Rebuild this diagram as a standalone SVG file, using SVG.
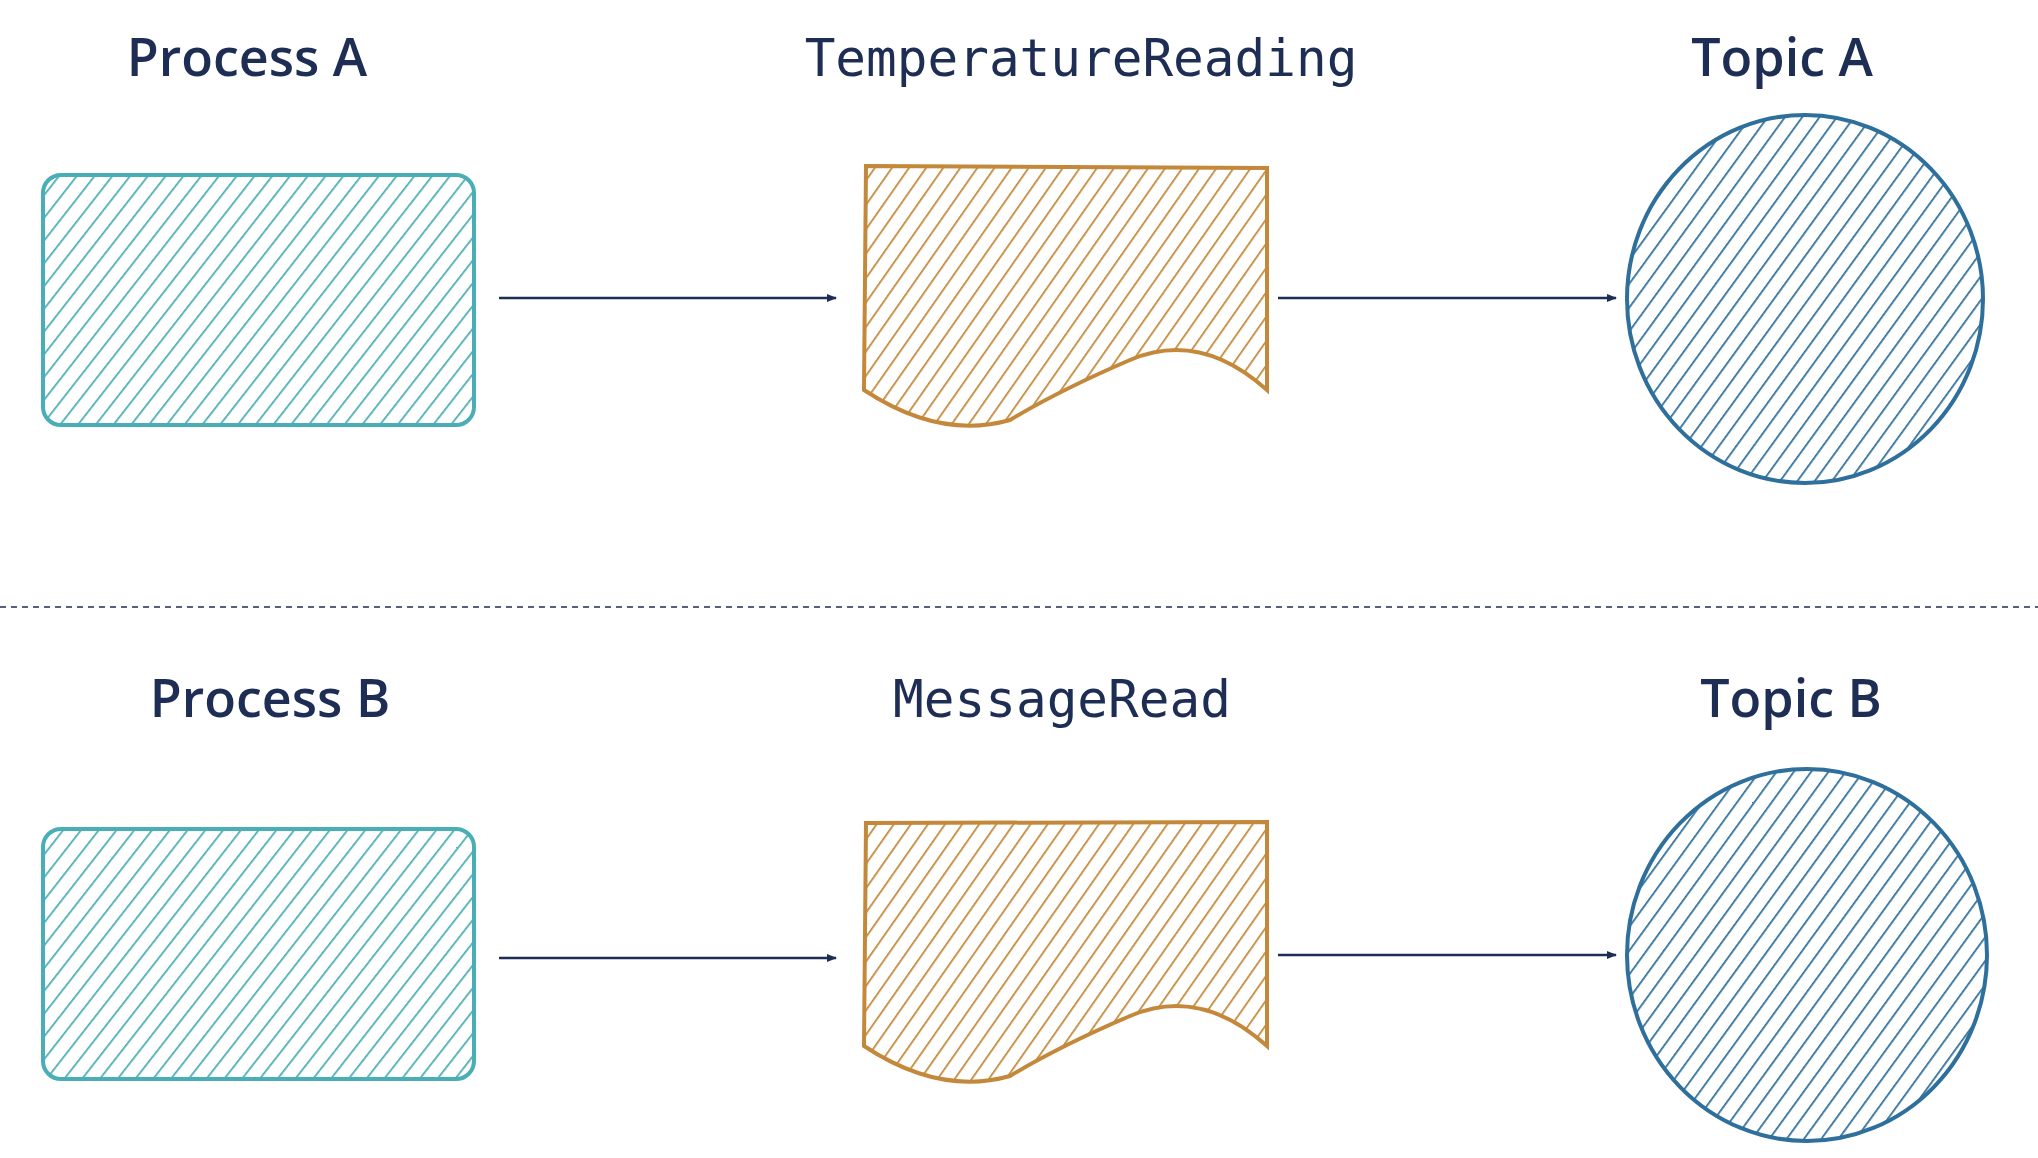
<svg xmlns="http://www.w3.org/2000/svg" width="2038" height="1158" viewBox="0 0 2038 1158">
<style>
.t{font-family:"Open Sans","Liberation Sans",sans-serif;font-size:52px;font-weight:600;fill:#1e2d54;text-anchor:middle}
.m{font-family:"DejaVu Sans Mono","Liberation Mono",monospace;font-size:51px;fill:#1e2d54;text-anchor:middle}
.c{stroke:#1e2d54;stroke-width:2.5;fill:none;marker-end:url(#ah)}
.teal{stroke:#4aaeb6;stroke-width:4;fill:url(#ht)}
.or{stroke:#c4883a;stroke-width:4;fill:url(#ho)}
.bl{stroke:#2e6f9c;stroke-width:4;fill:url(#hb)}
</style>
<defs>
<marker id="ah" markerWidth="10" markerHeight="10" refX="9" refY="5" orient="auto" markerUnits="userSpaceOnUse"><path d="M0,1 L10,5 L0,9 z" fill="#1e2d54"/></marker>
<pattern id="ht" width="14" height="14" patternUnits="userSpaceOnUse" patternTransform="rotate(38)"><line x1="0" y1="0" x2="0" y2="14" stroke="#4aaeb6" stroke-width="3.5"/></pattern>
<pattern id="ho" width="14" height="14" patternUnits="userSpaceOnUse" patternTransform="rotate(35)"><line x1="0" y1="0" x2="0" y2="14" stroke="#c4883a" stroke-width="3.5"/></pattern>
<pattern id="hb" width="14" height="14" patternUnits="userSpaceOnUse" patternTransform="rotate(36)"><line x1="0" y1="0" x2="0" y2="14" stroke="#2e6f9c" stroke-width="3.5"/></pattern>
</defs>
<line x1="0" y1="607" x2="2038" y2="607" stroke="#1e2d54" stroke-width="1.5" stroke-dasharray="6,5"/>
<g id="processA"><text class="t" x="247" y="76">Process A</text><rect class="teal" x="43" y="175" width="431" height="250" rx="18"/></g>
<g id="temperatureReading"><text class="m" x="1081" y="76">TemperatureReading</text><path class="or" d="M866,166 L1267,168 L1267,390 Q1200,330 1130,360 Q1060,390 1010,420 Q940,440 864,390 Z"/></g>
<g id="topicA"><text class="t" x="1782" y="76">Topic A</text><ellipse class="bl" cx="1805" cy="299" rx="178" ry="184"/></g>
<g id="processB"><text class="t" x="270" y="717">Process B</text><rect class="teal" x="43" y="829" width="431" height="250" rx="18"/></g>
<g id="messageRead"><text class="m" x="1062" y="717">MessageRead</text><path class="or" d="M866,823 L1267,822 L1267,1046 Q1200,986 1130,1016 Q1060,1046 1010,1076 Q940,1096 864,1046 Z"/></g>
<g id="topicB"><text class="t" x="1791" y="717">Topic B</text><ellipse class="bl" cx="1807" cy="955" rx="180" ry="186"/></g>
<g id="connectors">
<line class="c" x1="499" y1="298" x2="836" y2="298"/>
<line class="c" x1="1278" y1="298" x2="1616" y2="298"/>
<line class="c" x1="499" y1="958" x2="836" y2="958"/>
<line class="c" x1="1278" y1="955" x2="1616" y2="955"/>
</g>
</svg>
